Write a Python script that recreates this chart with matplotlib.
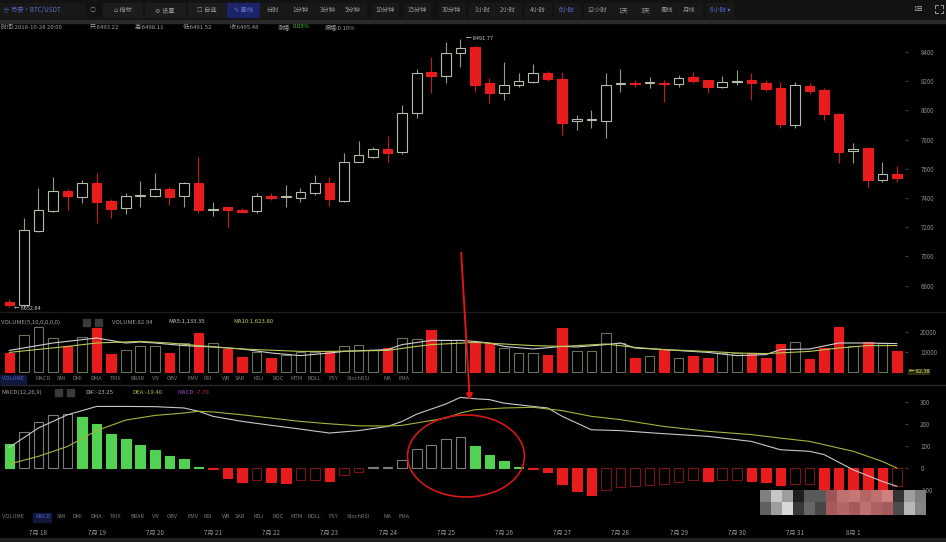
import numpy as np
import matplotlib
matplotlib.use('Agg')
import matplotlib.pyplot as plt
from matplotlib.patches import Rectangle, Ellipse

plt.rcParams['font.family'] = ['Noto Sans CJK SC', 'DejaVu Sans']

# ---- 6h candles, BTC/USDT, 7/18 - 8/1 ----
opens = np.array([6690, 6670, 7174, 7311, 7448, 7409, 7505, 7379, 7329, 7415,
                  7414, 7462, 7414, 7500, 7318, 7335, 7320, 7311, 7415, 7408,
                  7398, 7432, 7505, 7381, 7649, 7683, 7736, 7717, 7980, 8261,
                  8236, 8395, 8436, 8186, 8121, 8174, 8197, 8254, 8215, 7930,
                  7935, 7927, 8180, 8190, 8184, 8188, 8180, 8225, 8208, 8160,
                  8195, 8210, 8186, 8151, 7900, 8170, 8140, 7975, 7725, 7740,
                  7523, 7565])
highs = np.array([6708, 7265, 7466, 7546, 7460, 7523, 7573, 7390, 7432, 7518,
                  7569, 7477, 7510, 7683, 7375, 7341, 7330, 7432, 7432, 7489,
                  7466, 7557, 7546, 7706, 7790, 7751, 7825, 8037, 8281, 8368,
                  8471, 8491.77, 8440, 8220, 8334, 8258, 8316, 8268, 8265, 7968,
                  8003, 8254, 8281, 8210, 8225, 8207, 8240, 8265, 8210, 8235,
                  8277, 8254, 8210, 8197, 8197, 8186, 8151, 7980, 7775, 7745,
                  7649, 7619])
lows = np.array([6652.84, 6655, 7168, 7305, 7318, 7364, 7227, 7263, 7288, 7340,
                 7405, 7352, 7336, 7299, 7279, 7203, 7295, 7295, 7385, 7340,
                 7375, 7420, 7345, 7375, 7645, 7675, 7649, 7701, 7946, 8117,
                 8190, 8300, 8128, 8049, 8071, 8160, 8186, 8200, 7831, 7866,
                 7877, 7809, 8128, 8160, 8150, 8060, 8160, 8190, 8117, 8155,
                 8175, 8071, 8130, 7877, 7877, 8110, 7934, 7638, 7638, 7477,
                 7511, 7511])
closes = np.array([6668, 7180, 7318, 7450, 7416, 7505, 7370, 7325, 7416, 7420,
                   7460, 7409, 7505, 7318, 7322, 7318, 7305, 7416, 7400, 7412,
                   7443, 7500, 7391, 7649, 7694, 7733, 7710, 7980, 8254, 8236,
                   8391, 8425, 8174, 8121, 8174, 8201, 8254, 8215, 7912, 7935,
                   7940, 8174, 8186, 8180, 8188, 8182, 8224, 8204, 8158, 8197,
                   8201, 8186, 8147, 7905, 8174, 8135, 7975, 7717, 7730, 7523,
                   7562, 7535])

volumes = np.array([9500, 18300, 22500, 17000, 12800, 17500, 22000, 9000, 11200, 12800,
                    12800, 9500, 14500, 19500, 14500, 11500, 7500, 9800, 7000, 8700,
                    9800, 9800, 10300, 12800, 13700, 10800, 12000, 17000, 16500, 20800,
                    16200, 15800, 14500, 14500, 12000, 9500, 9500, 8300, 22000, 10300,
                    10300, 19500, 14500, 7000, 7800, 11200, 7000, 8200, 7000, 9500,
                    9500, 9500, 7000, 14000, 15000, 6500, 12000, 22500, 13000, 15000,
                    14500, 10300])
ma5_idx = [0, 3, 6, 8, 9, 10, 12, 14, 16, 18, 20, 22, 23, 26, 27, 29, 31, 32, 33, 34,
           36, 38, 39, 41, 42, 43, 45, 48, 50, 52, 53, 55, 57, 59, 61]
ma5 = [10800, 14500, 17000, 14500, 15000, 14500, 13200, 12500, 11500, 9500, 8200,
       9500, 10300, 11200, 13700, 15800, 15800, 15300, 14500, 12800, 11500, 12800,
       12500, 13700, 14500, 12000, 11200, 9800, 8200, 8700, 11200, 11500, 14500,
       14500, 14200]
ma10_idx = [0, 4, 6, 9, 11, 13, 16, 20, 22, 26, 28, 29, 32, 34, 36, 38, 41, 43, 45, 48,
            50, 52, 55, 57, 59, 61]
ma10 = [9800, 12800, 14500, 15300, 14500, 13200, 11500, 10300, 10300, 10800, 12800,
        13700, 14800, 14000, 13200, 12800, 14000, 12300, 11200, 10300, 9500, 9200,
        10300, 12000, 13200, 13200]

macd_hist = np.array([108, 164, 209, 240, 245, 232, 199, 156, 130, 106,
                      80, 55, 39, 3, -6, -45, -64, -56, -64, -66,
                      -56, -53, -61, -30, -18, 0, 4, 35, 88, 106,
                      133, 141, 98, 60, 30, 4, -1, -18, -73, -106,
                      -121, -100, -88, -80, -76, -72, -62, -53, -58, -56,
                      -54, -60, -64, -76, -74, -72, -94, -98, -102, -106,
                      -108, -83])
dif_idx = [0, 2, 4, 6, 8, 10, 12, 13, 14, 16, 18, 20, 22, 24, 26, 27, 28, 30, 31, 32,
           33, 34, 36, 37, 38, 40, 42, 45, 48, 51, 53, 55, 56, 58, 60, 61]
dif = [94, 182, 242, 280, 280, 279, 273, 258, 235, 212, 194, 177, 159, 170, 189, 212,
       245, 291, 321, 315, 311, 295, 280, 273, 235, 174, 170, 156, 144, 121, 83, 76,
       61, -8, -61, -83]
dea_idx = [0, 2, 4, 6, 8, 10, 12, 13, 14, 16, 18, 20, 22, 24, 26, 27, 28, 30, 31, 32,
           34, 36, 38, 40, 42, 45, 48, 51, 53, 55, 56, 58, 60, 61]
dea = [18, 53, 98, 170, 218, 239, 250, 258, 255, 242, 227, 212, 201, 192, 191, 194,
       205, 227, 250, 265, 273, 276, 261, 235, 220, 189, 167, 152, 136, 121, 106, 76,
       30, 0]

price_ticks = [8400, 8200, 8000, 7800, 7600, 7400, 7200, 7000, 6800]
vol_ticks = [20000, 10000]
macd_ticks = [300, 200, 100, 0, -100]
day_idx = list(range(2, 62, 4))
day_labels = ['7月 18', '7月 19', '7月 20', '7月 21', '7月 22', '7月 23', '7月 24',
              '7月 25', '7月 26', '7月 27', '7月 28', '7月 29', '7月 30', '7月 31', '8月 1']
tabs = ['VOLUME', 'MACD', 'SMI', 'DMI', 'DMA', 'TRIX', 'BRAR', 'VR', 'OBV', 'EMV', 'RSI',
        'WR', 'SAR', 'KDJ', 'ROC', 'MTM', 'BOLL', 'PSY', 'StochRSI', 'MA', 'EMA']
tab_x = [2, 35, 57, 72, 90, 110, 130, 152, 167, 187, 203, 222, 235, 253, 272, 290,
         307, 328, 347, 383, 398]
periods = ['分时', '1分钟', '3分钟', '5分钟', '10分钟', '15分钟', '30分钟', '1小时', '2小时',
           '4小时', '6小时', '12小时', '1天', '3天', '周线', '月线', '6小时 ▾']
period_x = [273, 300, 328, 353, 385, 417, 452, 482, 508, 538, 567, 597, 623, 646, 667, 689, 720]

# pixelated watermark bottom right
mosaic_gray = [[0.50, 0.78, 0.62, 0.12, 0.35, 0.35, 0.42, 0.55, 0.58, 0.50, 0.55, 0.62, 0.20, 0.62, 0.50],
               [0.38, 0.62, 0.85, 0.22, 0.40, 0.28, 0.45, 0.50, 0.45, 0.55, 0.48, 0.45, 0.30, 0.72, 0.52]]

RED = '#e81c1c'
HOLLOW = '#b4bcaa'
W, H = 946, 542
fig = plt.figure(figsize=(W / 100, H / 100), dpi=100, facecolor='black')


def pax(x0, y0, x1, y1):
    a = fig.add_axes([x0 / W, 1 - y1 / H, (x1 - x0) / W, (y1 - y0) / H])
    a.set_facecolor('black')
    for s in a.spines.values():
        s.set_visible(False)
    a.set_xticks([])
    a.yaxis.tick_right()
    a.tick_params(axis='y', length=2, color='#444444', labelcolor='#8a8a8a',
                  labelsize=4.5, pad=9)
    return a


x = np.arange(len(opens))
xl = (-0.64, 61.56)
up = closes >= opens

# price panel
ax = pax(0, 35, 905, 310)
ax.set_xlim(*xl)
ax.set_ylim(6633, 8516)
ax.vlines(x, lows, highs, colors=np.where(up, '#8f9e86', '#c81818'), lw=0.8, zorder=1)
ax.bar(x, np.maximum(np.abs(closes - opens), 8), 0.66, bottom=np.minimum(opens, closes),
       color=np.where(up, 'black', RED), edgecolor=np.where(up, HOLLOW, RED), lw=0.8, zorder=2)
ax.set_yticks(price_ticks)
ax.set_yticklabels([str(t) for t in price_ticks])
ax.text(31.4, highs[31], '─ 8491.77', fontsize=4, color='#c8c8c8', va='center')
ax.text(0.3, lows[0] - 10, '← 6652.84', fontsize=4, color='#c8c8c8', va='center')

# volume panel
av = pax(0, 315, 905, 373)
av.set_xlim(*xl)
av.set_ylim(-500, 28500)
av.bar(x, volumes, 0.66, color=np.where(up, 'black', RED),
       edgecolor=np.where(up, '#66745c', RED), lw=0.8)
av.plot(ma5_idx, ma5, color='#d0d0d0', lw=0.8)
av.plot(ma10_idx, ma10, color='#b9c955', lw=0.8)
av.set_yticks(vol_ticks)
av.set_yticklabels([str(t) for t in vol_ticks])
av.text(1.004, 82.38, '← 82.38', transform=av.get_yaxis_transform(), fontsize=4,
        color='#d8e070', va='center', clip_on=False,
        bbox=dict(boxstyle='square,pad=0.15', fc='#2a2c10', ec='none'))

# macd panel
am = pax(0, 395, 905, 512)
am.set_xlim(*xl)
am.set_ylim(-200, 332)
prev = np.concatenate([[0], macd_hist[:-1]])
pos = macd_hist >= 0
hollow = macd_hist > prev
hollow[0] = False
face = np.where(hollow, 'black', np.where(pos, '#52d152', RED))
edge = np.where(hollow, np.where(pos, '#7c7c7c', '#7a1414'), np.where(pos, '#52d152', RED))
hh = np.where(np.abs(macd_hist) < 4, np.where(pos, 4, -4), macd_hist)
am.bar(x, hh, 0.66, color=face, edgecolor=edge, lw=0.8)
am.plot(dif_idx, dif, color='#c8c8c8', lw=0.8)
am.plot(dea_idx, dea, color='#a9b23c', lw=0.8)
am.set_yticks(macd_ticks)
am.set_yticklabels([str(t) for t in macd_ticks])
am.set_xticks(day_idx)
am.set_xticklabels(day_labels)
am.tick_params(axis='x', length=0, labelsize=4.5, labelcolor='#9a9a9a', pad=12)

# overlay: toolbar, headers, annotation
ao = fig.add_axes([0, 0, 1, 1], zorder=10)
ao.set_xlim(0, W)
ao.set_ylim(H, 0)
ao.set_axis_off()
ao.add_patch(Rectangle((0, 0), W, 20, color='#121212'))
ao.add_patch(Rectangle((0, 20), W, 2.5, color='#2a2a2a'))
ao.add_patch(Rectangle((0, 538), W, 4, color='#1e1e1e'))
ao.add_patch(Rectangle((0, 384.5), W, 0.8, color='#2a2a2a'))
ao.add_patch(Rectangle((0, 311.5), W, 0.8, color='#1c1c1c'))

left_items = [(' ☆ 币安·BTC/USDT', 0, 85, '#5a6ed0', '#181818'),
              ('○', 86, 99, '#8a8a8a', '#121212'),
              ('⌂ 指标', 103, 142, '#9a9a9a', '#1c1c1c'),
              ('⚙ 设置', 145, 185, '#9a9a9a', '#1c1c1c'),
              ('☐ 自选', 188, 225, '#9a9a9a', '#1c1c1c'),
              ('✎ 画线', 227, 260, '#6a7ae0', '#1a2466')]
for lab, a, b, tc, bc in left_items:
    ao.add_patch(Rectangle((a, 3), b - a, 14, color=bc))
    ao.text((a + b) / 2 if a > 0 else a + 2, 10, lab, fontsize=4.5, color=tc, va='center',
            ha='center' if a > 0 else 'left')
for i, (lab, px) in enumerate(zip(periods, period_x)):
    blue = i in (10, 16)
    ao.add_patch(Rectangle((px - 13, 3), 26, 14, color='#181818'))
    ao.text(px, 10, lab, fontsize=4.5, color='#5a68d8' if blue else '#9a9a9a',
            ha='center', va='center')
ao.text(918, 9, '1日', fontsize=4.5, color='#bdbdbd', ha='center', va='center')
# fullscreen icon: four small corners
for cx, cy, dx, dy in ((935, 5, 1, 1), (943, 5, -1, 1), (935, 13, 1, -1), (943, 13, -1, -1)):
    ao.plot([cx, cx, cx + 2.5 * dx], [cy + 2.5 * dy, cy, cy], color='#9a9a9a', lw=0.7)

hdr = [('时间:2018-10-28 20:00', 1, '#a0a0a0'), ('开:6493.22', 90, '#a0a0a0'),
       ('高:6498.11', 135, '#a0a0a0'), ('低:6491.52', 183, '#a0a0a0'),
       ('收:6495.48', 230, '#a0a0a0'), ('涨幅:', 278, '#a0a0a0'),
       ('0.03%', 293, '#3ec43e'), ('振幅:0.10%', 325, '#a0a0a0')]
for t, px, c in hdr:
    ao.text(px, 27, t, fontsize=4.3, color=c, va='center')

vhdr = [('VOLUME(5,10,0,0,0,0)', 1, '#a0a0a0'), ('VOLUME:82.94', 112, '#a0a0a0'),
        ('MA5:1,133.35', 168, '#c8c8c8'), ('MA10:1,623.80', 233, '#c4d060')]
for t, px, c in vhdr:
    ao.text(px, 322, t, fontsize=4.3, color=c, va='center')
mhdr = [('MACD(12,26,9)', 1, '#a0a0a0'), ('DIF:-23.25', 85, '#b8b8b8'),
        ('DEA:-19.40', 132, '#b4bc48'), ('MACD:', 177, '#a040c8'), ('-7.70', 196, '#c03050')]
for t, px, c in mhdr:
    ao.text(px, 392, t, fontsize=4.3, color=c, va='center')
for bx in (83, 95):
    ao.add_patch(Rectangle((bx, 318.5), 7, 7, color='#3a3a3a'))
for bx in (55, 67):
    ao.add_patch(Rectangle((bx, 388.5), 7, 7, color='#3a3a3a'))

for ty, hl in ((379, 0), (517, 1)):
    for i, (t, px) in enumerate(zip(tabs, tab_x)):
        if i == hl:
            ao.add_patch(Rectangle((px - 2, ty - 4.5), len(t) * 3.6 + 4, 9, color='#0f1838'))
        ao.text(px, ty, t, fontsize=4, color='#4e5ed0' if i == hl else '#7a7a7a', va='center')

# red arrow + circle
ao.annotate('', xy=(470, 403), xytext=(461, 250),
            arrowprops=dict(arrowstyle='-|>', color='#e01414', lw=1.4, mutation_scale=9))
ao.add_patch(Ellipse((466, 456), 117, 82, fill=False, edgecolor='#d41818', lw=1.2))

g = np.array(mosaic_gray)
img = np.stack([g, g, g], axis=-1)
img[:, 6:12, 0] = np.clip(img[:, 6:12, 0] + 0.2, 0, 1)
img[:, 6:12, 1:] *= 0.8
ao.imshow(img, extent=(760, 925, 515, 490), aspect='auto', interpolation='nearest', zorder=5)

fig.savefig('out.png', dpi=100, facecolor='black')
